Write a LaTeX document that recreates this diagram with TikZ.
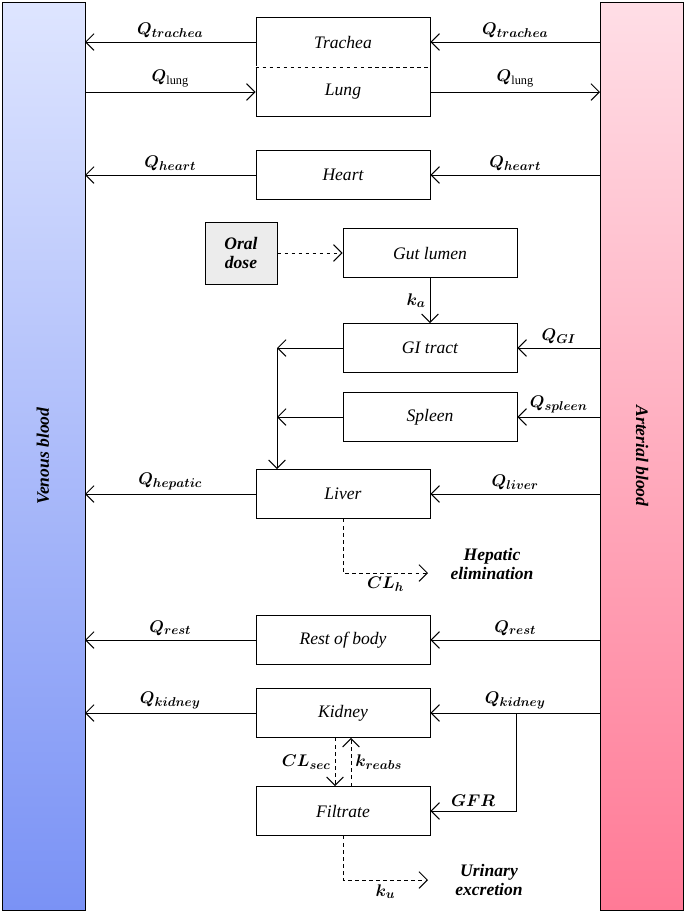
\documentclass[tikz,border=0pt]{standalone}
\usepackage{amsmath}
\usepackage{fontspec}
\setmainfont{Liberation Serif}
\usetikzlibrary{arrows.meta}
\definecolor{ventop}{RGB}{222,229,255}
\definecolor{venbot}{RGB}{122,146,245}
\definecolor{arttop}{RGB}{255,222,230}
\definecolor{artbot}{RGB}{255,122,150}
\tikzset{
  organ/.style={draw,thick,minimum width=5.22cm,minimum height=1.47cm,font=\itshape\fontsize{15}{17}\selectfont},
  flow/.style={-{Straight Barb[length=2.5mm]},thick},
  clear/.style={flow,dashed},
  lab/.style={font=\bfseries\itshape\fontsize{15}{17}\selectfont},
}
\begin{document}
\begin{tikzpicture}[x=0.03cm,y=-0.03cm]
\useasboundingbox (0,0) rectangle (685,913);
\shade[top color=ventop,bottom color=venbot,draw,thick] (2,2) rectangle (85,910);
\shade[top color=arttop,bottom color=artbot,draw,thick] (600,2) rectangle (683,910);
\node[lab,rotate=90] at(43,456){Venous blood};
\node[lab,rotate=-90] at(642,456){Arterial blood};
\coordinate (ven) at (85,0);
\coordinate (art) at (600,0);
% organs
\node[organ] (trachea) at(343,42){Trachea};
\node[organ] (lung) at(343,92){Lung};
\node[organ] (heart) at(343,175){Heart};
\node[draw,thick,fill=gray!15,minimum width=2.16cm,minimum height=1.86cm,align=center,font=\bfseries\itshape\fontsize{15}{17}\selectfont] (oral) at(241,253){Oral\\dose};
\node[organ] (gut) at(430,253){Gut lumen};
\node[organ] (gi) at(430,348){GI tract};
\node[organ] (spleen) at(430,417){Spleen};
\node[organ] (liver) at(343,494){Liver};
\node[organ] (rest) at(343,640){Rest of body};
\node[organ] (kidney) at(343,713){Kidney};
\node[organ] (filtrate) at(343,811){Filtrate};
\draw[white,line width=1.5pt] ([xshift=0.5pt]trachea.south west) -- ([xshift=-0.5pt]trachea.south east);
\draw[thick,dashed] (trachea.south west) -- (trachea.south east);
% flows
\draw[flow] (trachea.west) -- (trachea.west -| ven) node[midway,above,lab]{$\boldsymbol{Q_{trachea}}$};
\draw[flow] (trachea.east -| art) -- (trachea.east) node[midway,above,lab]{$\boldsymbol{Q_{trachea}}$};
\draw[flow] (lung.west -| ven) -- (lung.west) node[midway,above,lab]{$\boldsymbol{Q}_{\mathrm{lung}}$};
\draw[flow] (lung.east) -- (lung.east -| art) node[midway,above,lab]{$\boldsymbol{Q}_{\mathrm{lung}}$};
\draw[flow] (heart.west) -- (heart.west -| ven) node[midway,above,lab]{$\boldsymbol{Q_{heart}}$};
\draw[flow] (heart.east -| art) -- (heart.east) node[midway,above,lab]{$\boldsymbol{Q_{heart}}$};
\draw[clear] (oral.east) -- (gut.west);
\draw[flow] (gut.south) -- (gi.north) node[midway,left,lab]{$\boldsymbol{k_a}$};
\draw[flow] (gi.east -| art) -- (gi.east) node[midway,above,lab]{$\boldsymbol{Q_{GI}}$};
\draw[flow] (spleen.east -| art) -- (spleen.east) node[midway,above,lab]{$\boldsymbol{Q_{spleen}}$};
\coordinate (join) at (277,0);
\draw[flow] (gi.west) -- (gi.west -| join);
\draw[flow] (spleen.west) -- (spleen.west -| join);
\draw[flow] (gi.west -| join) -- (liver.north -| join);
\draw[flow] (liver.west) -- (liver.west -| ven) node[midway,above,lab]{$\boldsymbol{Q_{hepatic}}$};
\draw[flow] (liver.east -| art) -- (liver.east) node[midway,above,lab]{$\boldsymbol{Q_{liver}}$};
\coordinate (hep) at (428,573);
\draw[clear] (liver.south) |- (hep) node[pos=0.75,below,lab]{$\boldsymbol{CL_h}$};
\node[lab,align=center] (hepel) at(492,564){Hepatic\\elimination};
\draw[flow] (rest.west) -- (rest.west -| ven) node[midway,above,lab]{$\boldsymbol{Q_{rest}}$};
\draw[flow] (rest.east -| art) -- (rest.east) node[midway,above,lab]{$\boldsymbol{Q_{rest}}$};
\draw[flow] (kidney.west) -- (kidney.west -| ven) node[midway,above,lab]{$\boldsymbol{Q_{kidney}}$};
\draw[flow] (kidney.east -| art) -- (kidney.east) node[midway,above,lab]{$\boldsymbol{Q_{kidney}}$};
\coordinate (gfr) at (516,713);
\draw[flow] (gfr) |- (filtrate.east) node[pos=0.75,above,lab]{$\boldsymbol{GFR}$};
\draw[clear] ([xshift=-0.24cm]kidney.south) -- ([xshift=-0.24cm]filtrate.north) node[midway,left,lab]{$\boldsymbol{CL_{sec}}$};
\draw[clear] ([xshift=0.24cm]filtrate.north) -- ([xshift=0.24cm]kidney.south) node[midway,right,lab]{$\boldsymbol{k_{reabs}}$};
\coordinate (uri) at (428,880);
\draw[clear] (filtrate.south) |- (uri) node[pos=0.75,below,lab]{$\boldsymbol{k_u}$};
\node[lab,align=center] (urin) at(489,880){Urinary\\excretion};
\end{tikzpicture}
\end{document}
